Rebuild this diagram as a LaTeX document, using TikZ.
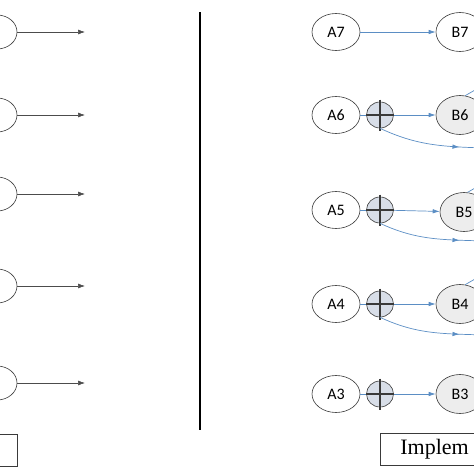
\documentclass[tikz,border=0pt]{standalone}
\usepackage{fontspec}
\setmainfont{Liberation Serif}
\newfontfamily\labelfont{Carlito}
\usetikzlibrary{positioning, arrows.meta, shapes.geometric, decorations.markings}
\definecolor{cLINK}{HTML}{5B8EC4}
\definecolor{cEDGE}{HTML}{3A3A3A}
\definecolor{cBFILL}{HTML}{EDEDED}
\definecolor{cSUM}{HTML}{D8DEE8}
\tikzset{
  oldnode/.style={
    ellipse, draw=cEDGE, line width=0.6pt,
    minimum width=40pt, minimum height=34pt, inner sep=0pt
  },
  anode/.style={
    ellipse, draw=cEDGE, line width=0.6pt, fill=white,
    minimum width=48pt, minimum height=37pt, inner sep=0pt,
    font=\labelfont\fontsize{16}{16}\selectfont
  },
  bnode/.style={
    anode, fill=cBFILL, minimum height=39pt
  },
  sumnode/.style={
    ellipse, draw=cEDGE, line width=0.6pt, fill=cSUM,
    minimum width=27pt, minimum height=26pt, inner sep=0pt
  },
  plain/.style={
    -{Latex[length=7pt,width=5pt]},
    line width=0.6pt, draw=black!70
  },
  link/.style={
    line width=0.7pt, color=cLINK
  },
  linkto/.style={
    link, -{Latex[length=7pt,width=4.5pt]}
  },
  backlink/.style={
    link, postaction={decorate},
    decoration={markings,
      mark=at position 0.77 with {\arrow{Latex[length=7pt,width=4.5pt]}}}
  },
  capbox/.style={
    draw=cEDGE, line width=0.8pt,
    minimum height=32pt, inner sep=0pt
  }
}
\newcommand{\sumbars}[1]{%
  \draw[line width=1.6pt, cEDGE] ([yshift=2pt]#1.north) -- ([yshift=-3pt]#1.south);%
  \draw[line width=1.6pt, cEDGE] (#1.west) -- (#1.east);%
}

\begin{document}
\begin{tikzpicture}[x=1pt, y=-1pt]
  \useasboundingbox (0,0) rectangle (474,474);
  \clip (0,0) rectangle (474,474);

  % left half
  \node[oldnode] (o1) at (-3,32) {};
  \node[oldnode] (o2) at (-3,115) {};
  \node[oldnode] (o3) at (-3,194) {};
  \node[oldnode] (o4) at (-3,286) {};
  \node[oldnode] (o5) at (-3,383) {};
  \coordinate (e1) at (85,32);
  \coordinate (e2) at (85,115);
  \coordinate (e3) at (85,194);
  \coordinate (e4) at (85,286);
  \coordinate (e5) at (85,383);
  \draw[plain] (o1) -- (e1);
  \draw[plain] (o2) -- (e2);
  \draw[plain] (o3) -- (e3);
  \draw[plain] (o4) -- (e4);
  \draw[plain] (o5) -- (e5);
  \node[capbox, minimum width=60pt, anchor=east] (oldcap) at (18,450) {};

  % divider
  \draw[line width=1.6pt] (200,12) -- (200,430);

  % right half
  \node[anode] (a7) at (336,32) {A7};
  \node[bnode, fill=white] (b7) at (460,32) {B7};
  \draw[linkto] (a7) -- (b7);

  \node[anode] (a6) at (336,115) {A6};
  \node[sumnode] (p6) at (380,115) {};
  \node[bnode] (b6) at (460,115) {B6};
  \draw[link] (a6) -- (p6);
  \draw[linkto] (p6) -- (b6);

  \node[anode] (a5) at (336,210) {A5};
  \node[sumnode] (p5) at (380,210) {};
  \node[bnode] (b5) at (464,212) {B5};
  \draw[link] (a5) -- (p5);
  \draw[linkto] (p5) -- (b5);

  \node[anode] (a4) at (336,304) {A4};
  \node[sumnode] (p4) at (380,304) {};
  \node[bnode] (b4) at (460,304) {B4};
  \draw[link] (a4) -- (p4);
  \draw[linkto] (p4) -- (b4);

  \node[anode] (a3) at (336,394) {A3};
  \node[sumnode] (p3) at (380,394) {};
  \node[bnode] (b3) at (460,394) {B3};
  \draw[link] (a3) -- (p3);
  \draw[linkto] (p3) -- (b3);

  \sumbars{p6}
  \sumbars{p5}
  \sumbars{p4}
  \sumbars{p3}

  % curved links leaving the right edge
  \coordinate (r6) at (484,148);
  \coordinate (r5) at (484,241);
  \coordinate (r4) at (484,335);
  \draw[backlink] (p6.south) to[out=-25, in=178] (r6);
  \draw[backlink] (p5.south) to[out=-25, in=178] (r5);
  \draw[backlink] (p4.south) to[out=-25, in=178] (r4);
  \coordinate (u6) at (482,86);
  \coordinate (u5) at (482,184);
  \coordinate (u4) at (482,275);
  \draw[link] (b6.75) -- (u6);
  \draw[link] (b5.80) -- (u5);
  \draw[link] (b4.75) -- (u4);

  \node[capbox, anchor=west, text width=200pt, align=left, inner xsep=20pt,
        font=\fontsize{22}{22}\selectfont] (newcap) at (380,449) {Implem};
\end{tikzpicture}
\end{document}
